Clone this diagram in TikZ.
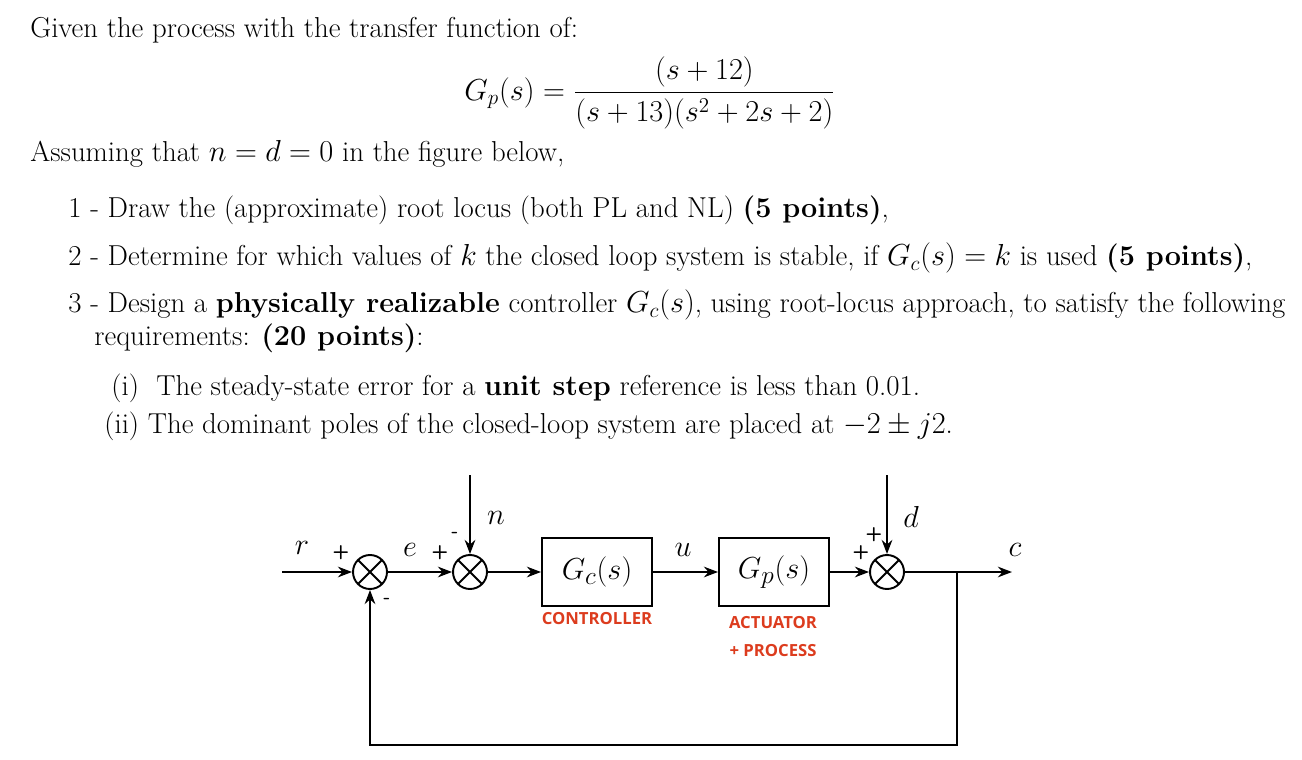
\documentclass[tikz,border=0pt]{standalone}
\usepackage{amsmath}
\usepackage{fontspec}
\newfontfamily\handfont{Open Sans}
\usetikzlibrary{arrows.meta}
\definecolor{redlbl}{RGB}{220,60,30}
\begin{document}
\begin{tikzpicture}[x=0.02cm,y=-0.02cm,
  txt/.style={anchor=base west,inner sep=0,font=\fontsize{16.4}{19}\selectfont},
  sumnode/.style={circle,draw,line width=1.1pt,minimum size=34*0.02cm,inner sep=0,path picture={\draw[line width=1.1pt] (path picture bounding box.north west)--(path picture bounding box.south east) (path picture bounding box.north east)--(path picture bounding box.south west);}},
  blk/.style={draw,line width=1.1pt,minimum width=110*0.02cm,minimum height=68*0.02cm,inner sep=0,font=\fontsize{19}{22}\selectfont},
  sig/.style={line width=1.5pt,-{Stealth[length=8pt,width=6pt]}},
  lbl/.style={inner sep=0,font=\fontsize{19}{22}\selectfont},
  pm/.style={inner sep=0,font=\sffamily\bfseries\fontsize{11}{12}\selectfont},
  red/.style={inner sep=0,text=redlbl,font=\handfont\bfseries\fontsize{9.5}{12}\selectfont}]
\useasboundingbox (0,0) rectangle (1302,760);
\node[txt] (t1) at (30,38) {Given the process with the transfer function of:};
\node[txt,anchor=center] (eq) at (650,93) {$\displaystyle G_p(s)=\frac{(s+12)}{(s+13)(s^2+2s+2)}$};
\node[txt] (t2) at (30,162) {Assuming that $n=d=0$ in the figure below,};
\node[txt] (t3) at (68,218) {1 - Draw the (approximate) root locus (both PL and NL) \textbf{(5 points)},};
\node[txt] (t4) at (68,266) {2 - Determine for which values of $k$ the closed loop system is stable, if $G_c(s)=k$ is used \textbf{(5 points)},};
\node[txt] (t5) at (68,313) {3 - Design a \textbf{physically realizable} controller $G_c(s)$, using root-locus approach, to satisfy the following};
\node[txt] (t6) at (94,345) {requirements: \textbf{(20 points)}:};
\node[txt] (t7) at (111,395) {(i)\ \ The steady-state error for a \textbf{unit step} reference is less than 0.01.};
\node[txt] (t8) at (104,433) {(ii)\ The dominant poles of the closed-loop system are placed at $-2\pm j2$.};

\node[sumnode] (s1) at (370,572) {};
\node[sumnode] (s2) at (470,572) {};
\node[sumnode] (s3) at (887,572) {};
\node[blk] (gc) at (597,572) {$G_c(s)$};
\node[blk] (gp) at (774,572) {$G_p(s)$};
\coordinate (rin) at (282,572);
\coordinate (nin) at (470,475);
\coordinate (din) at (887,475);
\coordinate (cout) at (1012,572);
\coordinate (br) at (957,572);
\coordinate (b1) at (957,745);
\coordinate (b2) at (370,745);
\draw[sig] (rin) -- (s1);
\draw[sig] (s1) -- (s2);
\draw[sig] (nin) -- (s2);
\draw[sig] (s2) -- (gc);
\draw[sig] (gc) -- (gp);
\draw[sig] (gp) -- (s3);
\draw[sig] (din) -- (s3);
\draw[sig] (s3) -- (cout);
\draw[sig] (br) -- (b1) -- (b2) -- (s1);
\node[lbl] (lr) at (302,548) {$r$};
\node[lbl] (le) at (410,550) {$e$};
\node[lbl] (ln) at (496,518) {$n$};
\node[lbl] (lu) at (683,550) {$u$};
\node[lbl] (ld) at (911,517) {$d$};
\node[lbl] (lc) at (1015,550) {$c$};
\node[pm] (p1) at (341,553) {+};
\node[pm] (m1) at (387,601) {-};
\node[pm] (p2) at (440,553) {+};
\node[pm] (m2) at (455,535) {-};
\node[pm] (p3) at (861,553) {+};
\node[pm] (p4) at (874,535) {+};
\node[red] (rc) at (597,619) {CONTROLLER};
\node[red] (ra) at (773,623) {ACTUATOR};
\node[red] (rp) at (773,651) {+ PROCESS};
\end{tikzpicture}
\end{document}
